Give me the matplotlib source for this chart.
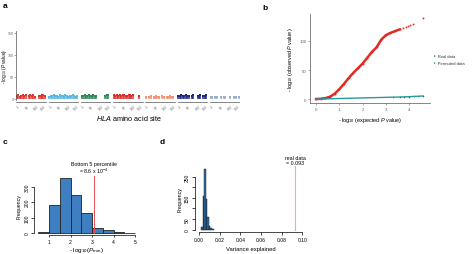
import matplotlib
matplotlib.use("Agg")
import matplotlib.pyplot as plt
import numpy as np

plt.rcParams['font.family'] = ['Liberation Sans', 'DejaVu Sans']
plt.rcParams['mathtext.fontset'] = 'custom'
plt.rcParams['mathtext.rm'] = 'Liberation Sans'
plt.rcParams['mathtext.it'] = 'Liberation Sans:italic'

# ---- panel a: manhattan-like, 7 HLA genes, 20 sites each ----
nan = np.nan
gene_colors = ['#e3342c', '#5bb6e2', '#2f8a58', '#d8302a', '#f29378', '#1e2b80', '#9ab0cf']
gene_vals = [
    [6, 8, 5, 7, 9, 6, 8, nan, 7, 9, 6, 8, 5, nan, nan, 7, 6, 9, 8, 6],
    [5, 7, 6, 8, 6, 7, 5, 8, 6, 7, 6, 8, 7, 5, 6, 7, 8, 6, 5, 7],
    [7, 6, 8, 6, 7, 9, 6, 7, 8, 6, 7, nan, nan, nan, nan, nan, 7, 9, 8, nan],
    [8, 7, 9, 6, 8, 7, 9, 8, 6, 7, 8, 9, 7, 8, nan, nan, nan, 7, nan, nan],
    [4, nan, 5, 6, nan, 5, 4, 6, 5, 4, nan, 6, 5, nan, 4, 5, 6, 4, 5, nan],
    [6, 7, 8, 7, 6, 8, 7, 6, nan, 7, 8, nan, nan, 7, 6, 8, nan, 7, 6, 8],
    [4, 5, nan, 4, 5, nan, nan, 5, nan, 4, 5, nan, nan, 4, nan, nan, 5, 4, nan, 5],
]
site_ticks = [1, 7, 13, 18]
site_tick_labels = ['-1', '50', '100', '150']

# ---- panel b: QQ plot ----
real_exp = [0.0, 0.2, 0.4, 0.6, 0.8, 1.0, 1.2, 1.4, 1.6, 1.8, 2.0, 2.2, 2.4, 2.6,
            2.8, 3.0, 3.2, 3.4, 3.6, 3.75, 3.85, 3.95, 4.05, 4.15, 4.58]
real_obs = [0, 0.5, 1.5, 4, 9, 17, 26, 36, 45, 53, 61, 71, 81, 89,
            102, 110, 114, 117, 120, 122, 124, 126, 127, 129, 139]
perm_exp = [0.0, 0.5, 1.0, 1.5, 2.0, 2.5, 3.0, 3.3, 3.6, 3.8, 4.0, 4.2, 4.4, 4.6]
perm_obs = [0.0, 0.4, 0.9, 1.4, 1.9, 2.4, 2.9, 3.2, 3.5, 3.8, 4.1, 4.4, 4.8, 5.3]

# ---- panel c: histogram of -log10(Pmin) ----
c_edges = [0.5, 1.0, 1.5, 2.0, 2.5, 3.0, 3.5, 4.0, 4.5, 5.0]
c_counts = [8, 183, 357, 249, 130, 32, 20, 4, 2]
c_cut = 3.07

# ---- panel d: histogram of variance explained ----
d_edges = [0.002, 0.0035, 0.005, 0.0065, 0.008, 0.0095, 0.011, 0.0125, 0.014]
d_counts = [11, 160, 286, 145, 58, 19, 6, 2]
d_real = 0.093

W, H = 474, 255
fig = plt.figure(figsize=(W / 100, H / 100), dpi=100)


def box(l, t, r, b):
    return [l / W, 1 - b / H, (r - l) / W, (b - t) / H]


def label(x, y, s):
    fig.text(x / W, 1 - y / H, s, fontsize=6, fontweight='bold', va='center', ha='left')


# panel a
ax = fig.add_axes(box(16, 31.8, 242, 101.3))
period = 22
xt, xl = [], []
for g, (vals, col) in enumerate(zip(gene_vals, gene_colors)):
    xs = g * period + np.arange(len(vals))
    ax.scatter(xs, vals, s=1.5, color=col, marker='s', linewidths=0)
    ax.vlines(xs, 0, vals, color=col, lw=1.1)
    ax.plot([xs[0] - 0.5, xs[-1] + 0.5], [-6, -6], color='#555', lw=0.5, clip_on=False)
    xt += [g * period + t for t in site_ticks]
    xl += site_tick_labels
ax.set_xlim(-0.7, 153.3)
ax.set_ylim(-3, 155)
ax.set_xticks(xt)
ax.set_xticklabels(xl, rotation=45, fontsize=2.4, color='#666')
ax.tick_params(axis='x', length=0, pad=2.5)
ax.set_yticks([0, 50, 100, 150])
ax.tick_params(axis='y', labelsize=2.6, length=1.2, width=0.4, colors='#666', pad=0.6)
for s in ['top', 'right', 'bottom']:
    ax.spines[s].set_visible(False)
ax.spines['left'].set_linewidth(0.5)
ax.spines['left'].set_color('#555')
ax.set_ylabel('- log$_{10}$ ($P$ value)', fontsize=3.4)
ax.yaxis.set_label_coords(-0.033, 0.5)
ax.set_xlabel('$HLA$ amino acid site', fontsize=5.2, labelpad=1.5)
label(3, 6, 'a')

# panel b
ax = fig.add_axes(box(310, 14.7, 430, 104.1))
ax.plot(real_exp[:19], real_obs[:19], color='#e02a22', lw=1.8)
ax.scatter(real_exp, real_obs, s=1.8, color='#e02a22', linewidths=0)
ax.plot(perm_exp, perm_obs, color='#2a9a9a', lw=1.0)
ax.scatter(perm_exp[7:], perm_obs[7:], s=1.2, color='#1e3f40', linewidths=0)
ax.set_xlim(-0.26, 4.9)
ax.set_ylim(-7, 147)
ax.set_xticks([0, 1, 2, 3, 4])
ax.set_yticks([0, 50, 100])
ax.tick_params(labelsize=3.2, length=1.5, width=0.4, colors='#666', pad=1)
for s in ['top', 'right']:
    ax.spines[s].set_visible(False)
for s in ['left', 'bottom']:
    ax.spines[s].set_linewidth(0.5)
    ax.spines[s].set_color('#555')
ax.set_xlabel('- log$_{10}$ (expected $P$ value)', fontsize=4, labelpad=3)
ax.set_ylabel('- log$_{10}$ (observed $P$ value)', fontsize=4, labelpad=3)
fig.text(434 / W, 1 - 57 / H, '\u2022  Real data', fontsize=3, va='center', color='#333')
fig.text(434 / W, 1 - 64 / H, '\u2022  Permuted data', fontsize=3, va='center', color='#333')
fig.text(434.3 / W, 1 - 57 / H, '\u2022', fontsize=3, va='center', color='#e02a22')
fig.text(434.3 / W, 1 - 64 / H, '\u2022', fontsize=3, va='center', color='#2a9a9a')
label(262, 8, 'b')


def r_style(ax, ybounds, xbounds):
    for s in ['top', 'right']:
        ax.spines[s].set_visible(False)
    ax.spines['left'].set_bounds(*ybounds)
    ax.spines['bottom'].set_bounds(*xbounds)
    for s in ['left', 'bottom']:
        ax.spines[s].set_linewidth(0.5)
    ax.tick_params(labelsize=3.6, length=2, width=0.5, pad=1.5)
    for t in ax.get_yticklabels():
        t.set_rotation(90)
        t.set_va('center')


# panel c
ax = fig.add_axes(box(34.4, 176.9, 138.9, 236.2))
ax.bar(c_edges[:-1], c_counts, width=np.diff(c_edges), align='edge',
       color='#3d7fc1', edgecolor='#222', lw=0.6)
ax.axvline(c_cut, ymin=0.04, ymax=1.0, color='#e8504a', lw=0.7)
ax.text(c_cut, 374, 'Bottom 5 percentile\n= 8.6 x 10$^{-4}$', fontsize=3.8,
        ha='center', va='bottom', linespacing=1.0)
ax.set_xlim(0.32, 5.18)
ax.set_ylim(-14.3, 371)
ax.set_xticks([1, 2, 3, 4, 5])
ax.set_yticks([0, 100, 200, 300])
r_style(ax, (0, 300), (1, 5))
ax.tick_params(axis='x', length=1.6, pad=1.0)
ax.set_ylabel('Frequency', fontsize=3.8, labelpad=2)
ax.set_xlabel('- log$_{10}$($P_{\\rm min}$)', fontsize=4.6, va='top')
ax.xaxis.set_label_coords(0.5, -0.16)
label(3, 143, 'c')

# panel d
ax = fig.add_axes(box(194.9, 166.7, 306.6, 233.2))
ax.bar(d_edges[:-1], d_counts, width=np.diff(d_edges), align='edge',
       color='#2f6fa8', edgecolor='#111', lw=0.3)
ax.axvline(d_real, ymin=0.037, ymax=1.0, color='#f0aaa0', lw=0.8)
ax.text(d_real, 304, 'real data\n= 0.093', fontsize=3.8, ha='center', va='bottom',
        linespacing=1.0)
ax.set_xlim(-0.004, 0.104)
ax.set_ylim(-12, 302)
ax.set_xticks([0.0, 0.02, 0.04, 0.06, 0.08, 0.10])
ax.set_xticklabels(['0.00', '0.02', '0.04', '0.06', '0.08', '0.10'])
ax.set_yticks([0, 50, 100, 150, 200, 250])
ax.set_yticklabels(['0', '50', '', '150', '', '250'])
r_style(ax, (0, 250), (0, 0.10))
ax.set_ylabel('Frequency', fontsize=3.8, labelpad=2)
ax.set_xlabel('Variance explained', fontsize=4.2, labelpad=2.5)
label(160, 143, 'd')

fig.savefig('out.png', dpi=100)
